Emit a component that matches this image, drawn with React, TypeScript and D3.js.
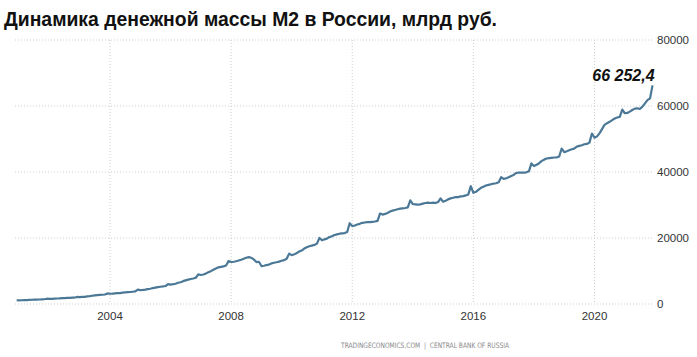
import React from "react";
import * as d3 from "d3";

const TITLE = "Динамика денежной массы М2 в России, млрд руб.";
const SOURCE = "TRADINGECONOMICS.COM  |  CENTRAL BANK OF RUSSIA";
const LAST_LABEL = "66 252,4";

const START_VALUE = 1144; // Dec 2000
const YEARS = [2001, 2002, 2003, 2004, 2005, 2006, 2007, 2008, 2009, 2010, 2011, 2012, 2013, 2014, 2015, 2016, 2017, 2018, 2019, 2020, 2021];
const v2001 = [1120, 1140, 1170, 1200, 1240, 1280, 1320, 1350, 1370, 1400, 1440, 1603];
const v2002 = [1560, 1580, 1620, 1670, 1710, 1770, 1810, 1850, 1880, 1920, 1960, 2134];
const v2003 = [2080, 2130, 2180, 2290, 2380, 2500, 2600, 2680, 2750, 2800, 2870, 3213];
const v2004 = [3110, 3140, 3200, 3270, 3320, 3430, 3500, 3570, 3630, 3710, 3800, 4363];
const v2005 = [4230, 4290, 4370, 4520, 4620, 4830, 4980, 5110, 5220, 5320, 5450, 6045];
const v2006 = [5890, 6010, 6150, 6430, 6600, 6920, 7160, 7380, 7570, 7720, 7950, 8996];
const v2007 = [8800, 8950, 9200, 9620, 9950, 10400, 10750, 11100, 11250, 11400, 11650, 13000];
const v2008 = [12700, 12800, 12950, 13200, 13400, 13700, 14000, 14200, 14000, 13500, 12700, 12800];
const v2009 = [11500, 11600, 11800, 11950, 12300, 12500, 12650, 12850, 13100, 13300, 13700, 15268];
const v2010 = [14800, 15100, 15400, 15900, 16200, 16800, 17200, 17500, 17700, 17900, 18300, 20012];
const v2011 = [19300, 19600, 19800, 20300, 20500, 20900, 21100, 21300, 21400, 21500, 21800, 24483];
const v2012 = [23600, 23800, 24100, 24300, 24600, 24700, 24800, 24800, 24900, 25000, 25200, 27405];
const v2013 = [27100, 27300, 27600, 28000, 28300, 28500, 28700, 28900, 29000, 29100, 29300, 31405];
const v2014 = [30300, 30200, 30100, 30200, 30400, 30600, 30700, 30600, 30700, 30600, 30900, 32000];
const v2015 = [31000, 31300, 31700, 32000, 32200, 32400, 32400, 32600, 32700, 32900, 33200, 35700];
const v2016 = [33700, 34000, 34600, 35200, 35500, 35900, 36100, 36300, 36500, 36600, 36900, 38418];
const v2017 = [37900, 38100, 38400, 38800, 39100, 39700, 39800, 39800, 39800, 39900, 40200, 42600];
const v2018 = [41800, 42200, 42600, 43300, 43700, 44100, 44200, 44300, 44400, 44400, 44700, 47109];
const v2019 = [46000, 46300, 46600, 46900, 47100, 47700, 47900, 48100, 48400, 48500, 48900, 51660];
const v2020 = [50400, 50800, 51700, 53000, 54300, 54800, 55200, 55700, 56200, 56500, 56700, 58900];
const v2021 = [57800, 57900, 58300, 58800, 59200, 59300, 59100, 59800, 60800, 61800, 62300, 66252.4];
const VALUES = [v2001, v2002, v2003, v2004, v2005, v2006, v2007, v2008, v2009, v2010, v2011, v2012, v2013, v2014, v2015, v2016, v2017, v2018, v2019, v2020, v2021];

const X_TICKS = [2004, 2008, 2012, 2016, 2020];
const Y_TICKS = [0, 20000, 40000, 60000, 80000];

type Pt = { date: Date; value: number };

export default function App() {
  const W = 697;
  const H = 357;

  const data: Pt[] = [{ date: new Date(2000, 11, 1), value: START_VALUE }];
  YEARS.forEach((yr, yi) => {
    VALUES[yi].forEach((v, m) => data.push({ date: new Date(yr, m, 1), value: v }));
  });

  const x = d3
    .scaleTime()
    .domain([new Date(2004, 0, 1), new Date(2020, 0, 1)])
    .range([110, 594.5]);
  const y = d3.scaleLinear().domain([0, 80000]).range([304, 40]);

  const line = d3
    .line<Pt>()
    .x((d) => x(d.date))
    .y((d) => y(d.value))
    .curve(d3.curveLinear);

  const gridLeft = 15;
  const gridRight = 652;
  const last = data[data.length - 1];

  return (
    <svg
      width={W}
      height={H}
      viewBox={`0 0 ${W} ${H}`}
      style={{ position: "absolute", left: 0, top: 0, background: "#fff" }}
    >
      <rect x={0} y={0} width={W} height={H} fill="#fff" />
      <text
        x={4}
        y={26}
        fontFamily="'Liberation Sans', Arial, sans-serif"
        fontWeight="bold"
        fontSize={20}
        fill="#111"
        textLength={493}
        lengthAdjust="spacingAndGlyphs"
      >
        {TITLE}
      </text>

      {Y_TICKS.map((t) => (
        <line
          key={"h" + t}
          x1={gridLeft}
          x2={gridRight}
          y1={y(t)}
          y2={y(t)}
          stroke="#cfcfcf"
          strokeWidth={1}
          strokeDasharray="1,2"
        />
      ))}
      {X_TICKS.map((t) => (
        <line
          key={"v" + t}
          x1={x(new Date(t, 0, 1))}
          x2={x(new Date(t, 0, 1))}
          y1={y(80000)}
          y2={y(0)}
          stroke="#cfcfcf"
          strokeWidth={1}
          strokeDasharray="1,2"
        />
      ))}

      <path d={line(data) || ""} fill="none" stroke="#4a7896" strokeWidth={2.2} strokeLinejoin="round" />

      {Y_TICKS.map((t) => (
        <text
          key={"yl" + t}
          x={657}
          y={y(t)}
          dy="0.35em"
          fontFamily="'Liberation Sans', Arial, sans-serif"
          fontSize={11.5}
          fill="#333"
        >
          {t}
        </text>
      ))}
      {X_TICKS.map((t) => (
        <text
          key={"xl" + t}
          x={x(new Date(t, 0, 1))}
          y={320}
          textAnchor="middle"
          fontFamily="'Liberation Sans', Arial, sans-serif"
          fontSize={11.5}
          fill="#333"
        >
          {t}
        </text>
      ))}

      <text
        x={x(last.date) + 2}
        y={80.5}
        textAnchor="end"
        fontFamily="'Liberation Sans', Arial, sans-serif"
        fontWeight="bold"
        fontStyle="italic"
        fontSize={16}
        fill="#111"
      >
        {LAST_LABEL}
      </text>

      <text
        x={509}
        y={348}
        textAnchor="end"
        fontFamily="'DejaVu Sans', sans-serif"
        fontSize={7.5}
        fill="#8a8a8a"
        textLength={168}
        lengthAdjust="spacingAndGlyphs"
        style={{ whiteSpace: "pre" }}
      >
        {SOURCE}
      </text>
    </svg>
  );
}
